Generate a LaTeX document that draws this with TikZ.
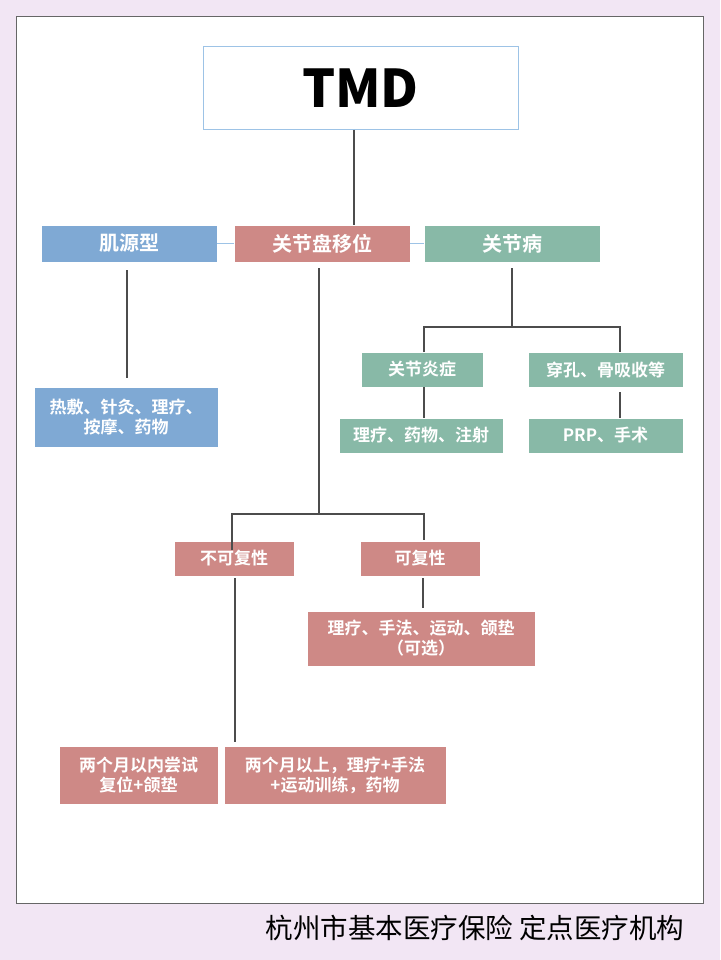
\documentclass[tikz,border=0pt]{standalone}
\usepackage{fontspec}
\setmainfont{Noto Sans CJK SC}
\newfontfamily\cjkb{Noto Sans CJK SC Bold}
\definecolor{bg}{HTML}{F2E6F4}
\definecolor{cb}{HTML}{7FA9D4}
\definecolor{cr}{HTML}{CE8986}
\definecolor{cg}{HTML}{88B9A7}
\definecolor{tb}{HTML}{9DC3E6}
\begin{document}
\begin{tikzpicture}[x=1pt,y=-1pt,
 bx/.style={draw=white,line width=0.8pt,inner sep=0pt,text=white,font=\cjkb\fontsize{17}{20}\selectfont,align=center},
 big/.style={font=\cjkb\fontsize{20}{24}\selectfont},
 ln/.style={draw=black!70,line width=1.1pt}]
\fill[bg] (0,0) rectangle (720,960);
\draw[black!60,fill=white] (16,16) rectangle (703,903);
\useasboundingbox (0,0) rectangle (720,960);
\newcommand\B[8]{\node[bx,fill=#6,minimum width={#4-#2},minimum height={#5-#3},#7] (#1) at ({(#2+#4)/2},{(#3+#5)/2}) {#8};}
\node[draw=tb,line width=1pt,fill=white,minimum width=315,minimum height=83,font=\fontspec{Noto Sans CJK SC Black}\fontsize{52}{56}\selectfont] (t) at (360.5,88.5) {TMD};
\B{a}{41}{225}{217}{262}{cb}{big}{肌源型}
\B{b}{234}{225}{410}{262}{cr}{big}{关节盘移位}
\B{c}{424}{225}{600}{262}{cg}{big}{关节病}
\B{a1}{34}{387}{218}{447}{cb}{}{热敷、针灸、理疗、\\按摩、药物}
\B{c1}{361}{352}{483}{387}{cg}{}{关节炎症}
\B{c2}{528}{352}{683}{387}{cg}{}{穿孔、骨吸收等}
\B{c3}{339}{418}{503}{453}{cg}{}{理疗、药物、注射}
\B{c4}{528}{418}{683}{453}{cg}{}{PRP、手术}
\B{b1}{174}{541}{294}{576}{cr}{}{不可复性}
\B{b2}{360}{541}{480}{576}{cr}{}{可复性}
\B{b3}{307}{611}{535}{666}{cr}{}{理疗、手法、运动、颌垫\\（可选）}
\B{b4}{59}{746}{218}{804}{cr}{}{两个月以内尝试\\复位+颌垫}
\B{b5}{224}{746}{446}{804}{cr}{}{两个月以上，理疗+手法\\+运动训练，药物}
% connectors
\draw[ln] (354,130) -- (354,225);
\draw[tb,line width=1.2pt] (a.east) -- (b.west);
\draw[tb,line width=1.2pt] (b.east) -- (c.west);
\draw[ln] (127,270) -- (127,378);
\draw[ln] (319,268) -- (319,514) coordinate (m);
\draw[ln] (232,550) -- (232,514) -- (424,514) -- (424,540);
\draw[ln] (423,578) -- (423,608);
\draw[ln] (235,578) -- (235,742);
\draw[ln] (512,268) -- (512,327);
\draw[ln] (424,352) -- (424,327) -- (620,327) -- (620,352);
\draw[ln] (424,387) -- (424,418);
\draw[ln] (620,392) -- (620,418);
\node[anchor=east,font=\fontsize{27.5}{30}\selectfont] (f) at (688,928) {杭州市基本医疗保险 定点医疗机构};
\end{tikzpicture}
\end{document}
